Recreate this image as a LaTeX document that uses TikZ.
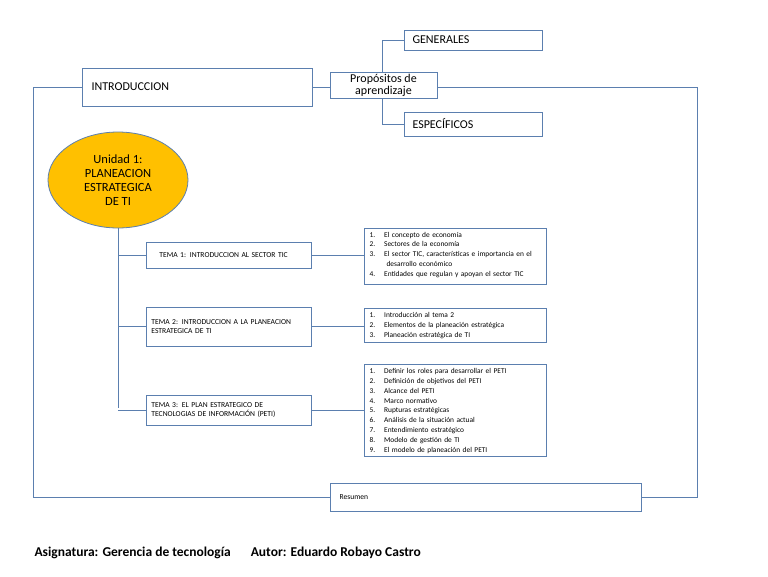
\documentclass[tikz,border=0pt]{standalone}
\usepackage{fontspec}
\setmainfont{Carlito}
\usetikzlibrary{shapes.geometric}
\definecolor{bl}{HTML}{5B7FAF}
\definecolor{gold}{HTML}{FFC000}
\begin{document}
\begin{tikzpicture}[x=1pt,y=-1pt,
 box/.style={draw=bl,line width=0.8pt,fill=white,inner sep=0pt},
 ln/.style={draw=bl,line width=0.8pt},
 lst/.style={font=\fontsize{7.4}{9.8}\selectfont,align=left,anchor=north west,text width=178pt}]
\useasboundingbox (0,0) rectangle (768,576);
% outer loop
\draw[ln] (82,87) -- (33,87) -- (33,497) -- (330,497);
\draw[ln] (641,497) -- (697,497) -- (697,87) -- (437,87);
% boxes
\node[box,minimum width=230pt,minimum height=38pt] (intro) at (197,87) {};
\node[anchor=west,font=\fontsize{12}{14}\selectfont] (introt) at (88,87) {INTRODUCCION};
\draw[ln] (intro.east) -- (330,87);
\draw[ln] (404,40) -- (382,40) -- (382,124) -- (404,124);
\node[box,minimum width=107pt,minimum height=26pt,align=center,font=\fontsize{12}{12}\selectfont] (prop) at (383.5,85) {Propósitos de\\aprendizaje};
\node[box,minimum width=138pt,minimum height=20pt] (gen) at (473,40) {};
\node[anchor=west,font=\fontsize{12}{14}\selectfont] at (409,40) {GENERALES};
\node[box,minimum width=138pt,minimum height=24pt] (esp) at (473,124) {};
\node[anchor=west,font=\fontsize{12}{14}\selectfont] at (409,124) {ESPECÍFICOS};
% ellipse
\draw[ln] (118,200) -- (118,408);
\node[ellipse,draw=bl,line width=0.8pt,fill=gold,minimum width=140pt,minimum height=96pt,align=center,font=\fontsize{12.5}{14}\selectfont] (u1) at (118,180) {Unidad 1:\\PLANEACION\\ESTRATEGICA\\DE TI};
% temas
\tikzset{tema/.style={box,minimum width=165pt,anchor=west,align=left,text width=155pt,font=\fontsize{7.6}{9.5}\selectfont}}
\node[tema,minimum height=26pt] (t1) at (146,255) {\hspace*{8pt}TEMA 1: INTRODUCCION AL SECTOR TIC};
\node[tema,minimum height=39pt] (t2) at (146,326.5) {TEMA 2: INTRODUCCION A LA PLANEACION\\ESTRATEGICA DE TI};
\node[tema,minimum height=30pt] (t3) at (146,410) {TEMA 3: EL PLAN ESTRATEGICO DE\\TECNOLOGIAS DE INFORMACIÓN (PETI)};
\foreach \t in {t1,t2,t3} \draw[ln] (118,0 |- \t.west) -- (\t.west);
% lists
\node[box,minimum width=182pt,minimum height=56pt,anchor=north west] (l1) at (364,228) {};
\node[lst] at (366,228.5) {1.\hspace{9pt}El concepto de economía\\2.\hspace{9pt}Sectores de la economía\\3.\hspace{9pt}El sector TIC, características e importancia en el\\\hspace*{17pt}desarrollo económico\\4.\hspace{9pt}Entidades que regulan y apoyan el sector TIC};
\node[box,minimum width=182pt,minimum height=34pt,anchor=north west] (l2) at (364,308) {};
\node[lst] at (366,309) {1.\hspace{9pt}Introducción al tema 2\\2.\hspace{9pt}Elementos de la planeación estratégica\\3.\hspace{9pt}Planeación estratégica de TI};
\node[box,minimum width=182pt,minimum height=92pt,anchor=north west] (l3) at (364,364) {};
\node[lst] at (366,365) {1.\hspace{9pt}Definir los roles para desarrollar el PETI\\2.\hspace{9pt}Definición de objetivos del PETI\\3.\hspace{9pt}Alcance del PETI\\4.\hspace{9pt}Marco normativo\\5.\hspace{9pt}Rupturas estratégicas\\6.\hspace{9pt}Análisis de la situación actual\\7.\hspace{9pt}Entendimiento estratégico\\8.\hspace{9pt}Modelo de gestión de TI\\9.\hspace{9pt}El modelo de planeación del PETI};
\draw[ln] (t1.east) -- (t1.east -| l1.west);
\draw[ln] (t2.east) -- (t2.east -| l2.west);
\draw[ln] (t3.east) -- (t3.east -| l3.west);
% resumen
\node[box,minimum width=311pt,minimum height=28pt,anchor=west] (res) at (330,497) {};
\node[anchor=west,font=\fontsize{7.6}{9}\selectfont] at (336,497) {Resumen};
% footer
\node[anchor=west,font=\bfseries\fontsize{13.5}{16}\selectfont] (foot) at (31,553) {Asignatura: Gerencia de tecnología\hspace{20pt}Autor: Eduardo Robayo Castro};
\end{tikzpicture}
\end{document}
